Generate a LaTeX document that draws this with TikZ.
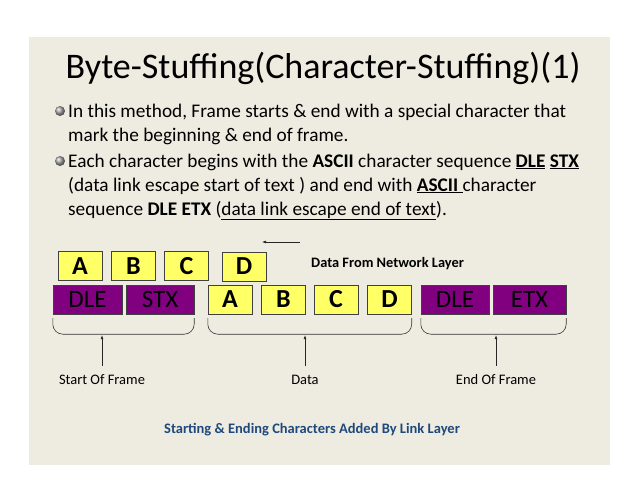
\documentclass[tikz,border=0pt]{standalone}
\usepackage{fontspec}
\setmainfont{Carlito}
\usepackage{tikz}
\usetikzlibrary{positioning,arrows.meta,calc}
\definecolor{slidebg}{RGB}{238,236,225}
\definecolor{charyellow}{RGB}{255,255,102}
\definecolor{flagpurple}{RGB}{128,0,128}
\definecolor{notenavy}{RGB}{31,73,125}
\tikzset{
    datachar/.style={
        draw=black!75,
        fill=charyellow,
        font=\fontsize{26}{26}\selectfont\bfseries,
        minimum width=44pt,
        minimum height=29pt,
        inner sep=0pt
    },
    flagchar/.style={
        draw=black!75,
        fill=flagpurple,
        text=black,
        font=\fontsize{25}{25}\selectfont,
        minimum height=29pt,
        inner sep=0pt
    },
    bulletline/.style={
        anchor=base west,
        inner sep=0pt,
        font=\fontsize{19.3}{19.3}\selectfont
    },
    bulletdot/.style={
        circle,
        minimum size=10pt,
        inner sep=0pt,
        shading=ball,
        ball color=gray!70
    },
    caption/.style={
        font=\fontsize{14.5}{14.5}\selectfont,
        inner sep=0pt
    },
    bracegroup/.style={
        line width=0.6pt,
        black!80,
        rounded corners=10pt
    },
    pointer/.style={
        -{Latex[length=4pt,width=3pt]},
        line width=0.6pt,
        black!85
    }
}

\begin{document}
\begin{tikzpicture}[x=1pt, y=-1pt]

% ============================================================
% SLIDE
% ============================================================

\useasboundingbox (0,0) rectangle (638,493);
\fill[white] (0,0) rectangle (638,493);
\fill[slidebg] (29,37) rectangle (610,465);

\node[font=\fontsize{36}{36}\selectfont, inner sep=0pt] (title) at (323,68)
{Byte-Stuffing(Character-Stuffing)(1)};

% ============================================================
% BULLETS
% ============================================================

\node[bulletdot] (dot1) at (60,111) {};
\node[bulletline] (l1a) at (68,117)
{In this method, Frame starts \& end with a special character that};
\node[bulletline] (l1b) at (68,141)
{mark the beginning \& end of frame.};

\node[bulletdot] (dot2) at (60,161) {};
\node[bulletline] (l2a) at (68,167)
{Each character begins with the \textbf{ASCII} character sequence \underline{\textbf{DLE}} \underline{\textbf{STX}}};
\node[bulletline] (l2b) at (68,191)
{(data link escape start of text ) and end with \underline{\textbf{ASCII }}character};
\node[bulletline] (l2c) at (68,215)
{sequence \textbf{DLE ETX} (\underline{data link escape end of text}).};

% ============================================================
% DATA FROM NETWORK LAYER
% ============================================================

\node[datachar] (na) at (80,266)    {A};
\node[datachar] (nb) at (133.5,266) {B};
\node[datachar] (nc) at (186.5,266) {C};
\node[datachar] (nd) at (244,266.5) {D};

\coordinate (flowR) at (300,242);
\coordinate (flowL) at (262,242);
\draw[pointer] (flowR) -- (flowL);

\node[anchor=west, inner sep=0pt, font=\fontsize{14.4}{14.4}\selectfont\bfseries] (netlab) at (311,264)
{Data From Network Layer};

% ============================================================
% FRAME
% ============================================================

\node[flagchar, minimum width=69pt] (dles) at (87.5,299.5) {DLE};
\node[flagchar, minimum width=68pt] (stx)  at (160,299.5)  {STX};

\node[datachar] (fa) at (230,299.5)   {A};
\node[datachar] (fb) at (283.5,299.5) {B};
\node[datachar] (fc) at (336,299.5)   {C};
\node[datachar] (fd) at (389.5,299.5) {D};

\node[flagchar, minimum width=68pt] (dlee) at (455,299.5)   {DLE};
\node[flagchar, minimum width=73pt] (etx)  at (529.5,299.5) {ETX};

% braces
\draw[bracegroup] ($(dles.south west)+(0,4)$) -- ($(dles.south west)+(0,20)$)
    -- ($(stx.south east)+(0,20)$) -- ($(stx.south east)+(0,4)$);
\draw[bracegroup] ($(fa.south west)+(0,4)$) -- ($(fa.south west)+(0,20)$)
    -- ($(fd.south east)+(0,20)$) -- ($(fd.south east)+(0,4)$);
\draw[bracegroup] ($(dlee.south west)+(0,4)$) -- ($(dlee.south west)+(0,20)$)
    -- ($(etx.south east)+(0,20)$) -- ($(etx.south east)+(0,4)$);

\coordinate (braceline) at ($(dles.south west)+(0,21)$);

% labels
\node[caption] (sof)  at (102,380) {Start Of Frame};
\node[caption] (data) at (305,380) {Data};
\node[caption] (eof)  at (496,380) {End Of Frame};

\draw[pointer] ([yshift=9pt]sof.north) -- (sof |- braceline);
\draw[pointer] ([yshift=9pt]data.north) -- (data |- braceline);
\draw[pointer] ([yshift=9pt]eof.north) -- (eof |- braceline);

\node[font=\fontsize{14.5}{14.5}\selectfont\bfseries, text=notenavy, inner sep=0pt] (note) at (312,430)
{Starting \& Ending Characters Added By Link Layer};

\end{tikzpicture}
\end{document}
